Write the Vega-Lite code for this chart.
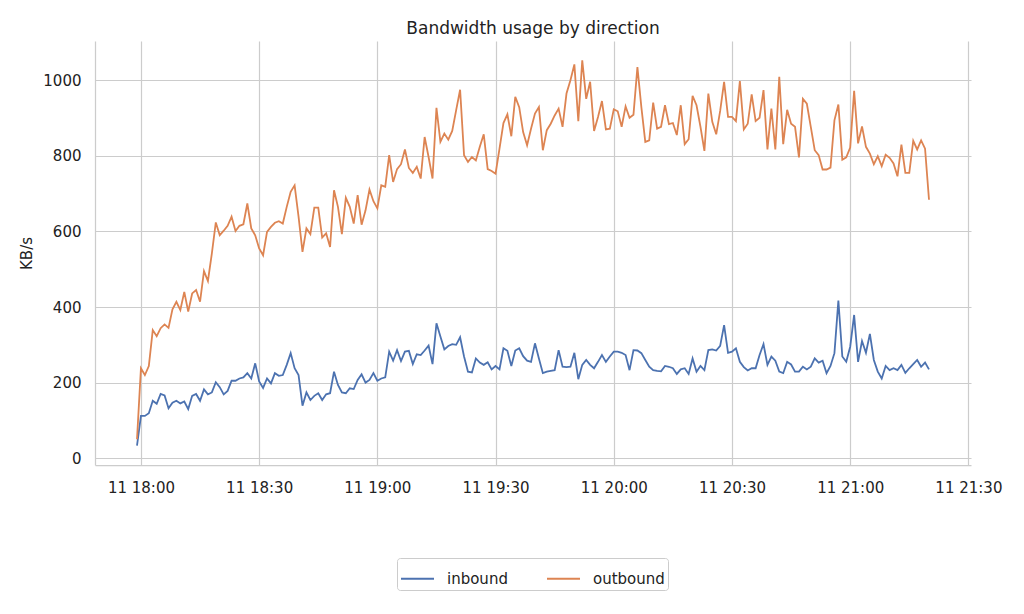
{
"width":876,"height":424,
"padding":{"left":19,"top":20,"right":5,"bottom":5},
"title":{"text":"Bandwidth usage by direction","font":"DejaVu Sans","fontSize":17,"fontWeight":"normal","color":"#222222","offset":3},
"config":{"view":{"stroke":null},
"axis":{"domainColor":"#cccccc","domainWidth":1.25,"gridColor":"#cccccc","gridWidth":1.2,"ticks":false,"tickSize":0,"labelFont":"DejaVu Sans","labelFontSize":15,"labelColor":"#222222","titleFont":"DejaVu Sans","titleFontSize":15,"titleFontWeight":"normal","titleColor":"#222222"}},
"data":{"values":[
{"d":"inbound","t":"2024-01-11T17:59","v":33},{"d":"inbound","t":"2024-01-11T18:00","v":112},{"d":"inbound","t":"2024-01-11T18:01","v":112},{"d":"inbound","t":"2024-01-11T18:02","v":119},{"d":"inbound","t":"2024-01-11T18:03","v":152},{"d":"inbound","t":"2024-01-11T18:04","v":144},{"d":"inbound","t":"2024-01-11T18:05","v":170},{"d":"inbound","t":"2024-01-11T18:06","v":166},{"d":"inbound","t":"2024-01-11T18:07","v":132},{"d":"inbound","t":"2024-01-11T18:08","v":147},{"d":"inbound","t":"2024-01-11T18:09","v":152},
{"d":"inbound","t":"2024-01-11T18:10","v":145},{"d":"inbound","t":"2024-01-11T18:11","v":150},{"d":"inbound","t":"2024-01-11T18:12","v":130},{"d":"inbound","t":"2024-01-11T18:13","v":165},{"d":"inbound","t":"2024-01-11T18:14","v":170},{"d":"inbound","t":"2024-01-11T18:15","v":152},{"d":"inbound","t":"2024-01-11T18:16","v":182},{"d":"inbound","t":"2024-01-11T18:17","v":169},{"d":"inbound","t":"2024-01-11T18:18","v":174},{"d":"inbound","t":"2024-01-11T18:19","v":201},
{"d":"inbound","t":"2024-01-11T18:20","v":188},{"d":"inbound","t":"2024-01-11T18:21","v":169},{"d":"inbound","t":"2024-01-11T18:22","v":178},{"d":"inbound","t":"2024-01-11T18:23","v":205},{"d":"inbound","t":"2024-01-11T18:24","v":205},{"d":"inbound","t":"2024-01-11T18:25","v":211},{"d":"inbound","t":"2024-01-11T18:26","v":214},{"d":"inbound","t":"2024-01-11T18:27","v":225},{"d":"inbound","t":"2024-01-11T18:28","v":211},{"d":"inbound","t":"2024-01-11T18:29","v":251},
{"d":"inbound","t":"2024-01-11T18:30","v":203},{"d":"inbound","t":"2024-01-11T18:31","v":186},{"d":"inbound","t":"2024-01-11T18:32","v":211},{"d":"inbound","t":"2024-01-11T18:33","v":198},{"d":"inbound","t":"2024-01-11T18:34","v":225},{"d":"inbound","t":"2024-01-11T18:35","v":218},{"d":"inbound","t":"2024-01-11T18:36","v":220},{"d":"inbound","t":"2024-01-11T18:37","v":247},{"d":"inbound","t":"2024-01-11T18:38","v":278},{"d":"inbound","t":"2024-01-11T18:39","v":238},
{"d":"inbound","t":"2024-01-11T18:40","v":220},{"d":"inbound","t":"2024-01-11T18:41","v":139},{"d":"inbound","t":"2024-01-11T18:42","v":174},{"d":"inbound","t":"2024-01-11T18:43","v":154},{"d":"inbound","t":"2024-01-11T18:44","v":165},{"d":"inbound","t":"2024-01-11T18:45","v":172},{"d":"inbound","t":"2024-01-11T18:46","v":154},{"d":"inbound","t":"2024-01-11T18:47","v":169},{"d":"inbound","t":"2024-01-11T18:48","v":172},{"d":"inbound","t":"2024-01-11T18:49","v":229},
{"d":"inbound","t":"2024-01-11T18:50","v":194},{"d":"inbound","t":"2024-01-11T18:51","v":174},{"d":"inbound","t":"2024-01-11T18:52","v":172},{"d":"inbound","t":"2024-01-11T18:53","v":185},{"d":"inbound","t":"2024-01-11T18:54","v":183},{"d":"inbound","t":"2024-01-11T18:55","v":207},{"d":"inbound","t":"2024-01-11T18:56","v":222},{"d":"inbound","t":"2024-01-11T18:57","v":200},{"d":"inbound","t":"2024-01-11T18:58","v":207},{"d":"inbound","t":"2024-01-11T18:59","v":225},
{"d":"inbound","t":"2024-01-11T19:00","v":205},{"d":"inbound","t":"2024-01-11T19:01","v":211},{"d":"inbound","t":"2024-01-11T19:02","v":214},{"d":"inbound","t":"2024-01-11T19:03","v":282},{"d":"inbound","t":"2024-01-11T19:04","v":258},{"d":"inbound","t":"2024-01-11T19:05","v":286},{"d":"inbound","t":"2024-01-11T19:06","v":257},{"d":"inbound","t":"2024-01-11T19:07","v":282},{"d":"inbound","t":"2024-01-11T19:08","v":284},{"d":"inbound","t":"2024-01-11T19:09","v":249},
{"d":"inbound","t":"2024-01-11T19:10","v":275},{"d":"inbound","t":"2024-01-11T19:11","v":273},{"d":"inbound","t":"2024-01-11T19:12","v":285},{"d":"inbound","t":"2024-01-11T19:13","v":298},{"d":"inbound","t":"2024-01-11T19:14","v":249},{"d":"inbound","t":"2024-01-11T19:15","v":357},{"d":"inbound","t":"2024-01-11T19:16","v":322},{"d":"inbound","t":"2024-01-11T19:17","v":288},{"d":"inbound","t":"2024-01-11T19:18","v":297},{"d":"inbound","t":"2024-01-11T19:19","v":302},
{"d":"inbound","t":"2024-01-11T19:20","v":300},{"d":"inbound","t":"2024-01-11T19:21","v":320},{"d":"inbound","t":"2024-01-11T19:22","v":269},{"d":"inbound","t":"2024-01-11T19:23","v":229},{"d":"inbound","t":"2024-01-11T19:24","v":227},{"d":"inbound","t":"2024-01-11T19:25","v":264},{"d":"inbound","t":"2024-01-11T19:26","v":253},{"d":"inbound","t":"2024-01-11T19:27","v":247},{"d":"inbound","t":"2024-01-11T19:28","v":254},{"d":"inbound","t":"2024-01-11T19:29","v":235},
{"d":"inbound","t":"2024-01-11T19:30","v":244},{"d":"inbound","t":"2024-01-11T19:31","v":235},{"d":"inbound","t":"2024-01-11T19:32","v":291},{"d":"inbound","t":"2024-01-11T19:33","v":284},{"d":"inbound","t":"2024-01-11T19:34","v":244},{"d":"inbound","t":"2024-01-11T19:35","v":285},{"d":"inbound","t":"2024-01-11T19:36","v":291},{"d":"inbound","t":"2024-01-11T19:37","v":270},{"d":"inbound","t":"2024-01-11T19:38","v":258},{"d":"inbound","t":"2024-01-11T19:39","v":255},
{"d":"inbound","t":"2024-01-11T19:40","v":304},{"d":"inbound","t":"2024-01-11T19:41","v":264},{"d":"inbound","t":"2024-01-11T19:42","v":225},{"d":"inbound","t":"2024-01-11T19:43","v":229},{"d":"inbound","t":"2024-01-11T19:44","v":231},{"d":"inbound","t":"2024-01-11T19:45","v":233},{"d":"inbound","t":"2024-01-11T19:46","v":286},{"d":"inbound","t":"2024-01-11T19:47","v":242},{"d":"inbound","t":"2024-01-11T19:48","v":241},{"d":"inbound","t":"2024-01-11T19:49","v":242},
{"d":"inbound","t":"2024-01-11T19:50","v":279},{"d":"inbound","t":"2024-01-11T19:51","v":209},{"d":"inbound","t":"2024-01-11T19:52","v":247},{"d":"inbound","t":"2024-01-11T19:53","v":260},{"d":"inbound","t":"2024-01-11T19:54","v":247},{"d":"inbound","t":"2024-01-11T19:55","v":238},{"d":"inbound","t":"2024-01-11T19:56","v":255},{"d":"inbound","t":"2024-01-11T19:57","v":273},{"d":"inbound","t":"2024-01-11T19:58","v":255},{"d":"inbound","t":"2024-01-11T19:59","v":269},
{"d":"inbound","t":"2024-01-11T20:00","v":282},{"d":"inbound","t":"2024-01-11T20:01","v":282},{"d":"inbound","t":"2024-01-11T20:02","v":279},{"d":"inbound","t":"2024-01-11T20:03","v":273},{"d":"inbound","t":"2024-01-11T20:04","v":233},{"d":"inbound","t":"2024-01-11T20:05","v":286},{"d":"inbound","t":"2024-01-11T20:06","v":285},{"d":"inbound","t":"2024-01-11T20:07","v":278},{"d":"inbound","t":"2024-01-11T20:08","v":260},{"d":"inbound","t":"2024-01-11T20:09","v":242},
{"d":"inbound","t":"2024-01-11T20:10","v":233},{"d":"inbound","t":"2024-01-11T20:11","v":231},{"d":"inbound","t":"2024-01-11T20:12","v":230},{"d":"inbound","t":"2024-01-11T20:13","v":244},{"d":"inbound","t":"2024-01-11T20:14","v":242},{"d":"inbound","t":"2024-01-11T20:15","v":238},{"d":"inbound","t":"2024-01-11T20:16","v":223},{"d":"inbound","t":"2024-01-11T20:17","v":235},{"d":"inbound","t":"2024-01-11T20:18","v":238},{"d":"inbound","t":"2024-01-11T20:19","v":223},
{"d":"inbound","t":"2024-01-11T20:20","v":264},{"d":"inbound","t":"2024-01-11T20:21","v":229},{"d":"inbound","t":"2024-01-11T20:22","v":244},{"d":"inbound","t":"2024-01-11T20:23","v":233},{"d":"inbound","t":"2024-01-11T20:24","v":286},{"d":"inbound","t":"2024-01-11T20:25","v":288},{"d":"inbound","t":"2024-01-11T20:26","v":285},{"d":"inbound","t":"2024-01-11T20:27","v":297},{"d":"inbound","t":"2024-01-11T20:28","v":352},{"d":"inbound","t":"2024-01-11T20:29","v":279},
{"d":"inbound","t":"2024-01-11T20:30","v":282},{"d":"inbound","t":"2024-01-11T20:31","v":291},{"d":"inbound","t":"2024-01-11T20:32","v":255},{"d":"inbound","t":"2024-01-11T20:33","v":241},{"d":"inbound","t":"2024-01-11T20:34","v":232},{"d":"inbound","t":"2024-01-11T20:35","v":238},{"d":"inbound","t":"2024-01-11T20:36","v":238},{"d":"inbound","t":"2024-01-11T20:37","v":273},{"d":"inbound","t":"2024-01-11T20:38","v":302},{"d":"inbound","t":"2024-01-11T20:39","v":247},
{"d":"inbound","t":"2024-01-11T20:40","v":269},{"d":"inbound","t":"2024-01-11T20:41","v":258},{"d":"inbound","t":"2024-01-11T20:42","v":229},{"d":"inbound","t":"2024-01-11T20:43","v":225},{"d":"inbound","t":"2024-01-11T20:44","v":255},{"d":"inbound","t":"2024-01-11T20:45","v":248},{"d":"inbound","t":"2024-01-11T20:46","v":229},{"d":"inbound","t":"2024-01-11T20:47","v":229},{"d":"inbound","t":"2024-01-11T20:48","v":242},{"d":"inbound","t":"2024-01-11T20:49","v":235},
{"d":"inbound","t":"2024-01-11T20:50","v":242},{"d":"inbound","t":"2024-01-11T20:51","v":264},{"d":"inbound","t":"2024-01-11T20:52","v":253},{"d":"inbound","t":"2024-01-11T20:53","v":258},{"d":"inbound","t":"2024-01-11T20:54","v":225},{"d":"inbound","t":"2024-01-11T20:55","v":244},{"d":"inbound","t":"2024-01-11T20:56","v":278},{"d":"inbound","t":"2024-01-11T20:57","v":417},{"d":"inbound","t":"2024-01-11T20:58","v":269},{"d":"inbound","t":"2024-01-11T20:59","v":255},
{"d":"inbound","t":"2024-01-11T21:00","v":295},{"d":"inbound","t":"2024-01-11T21:01","v":379},{"d":"inbound","t":"2024-01-11T21:02","v":255},{"d":"inbound","t":"2024-01-11T21:03","v":310},{"d":"inbound","t":"2024-01-11T21:04","v":279},{"d":"inbound","t":"2024-01-11T21:05","v":329},{"d":"inbound","t":"2024-01-11T21:06","v":260},{"d":"inbound","t":"2024-01-11T21:07","v":229},{"d":"inbound","t":"2024-01-11T21:08","v":211},{"d":"inbound","t":"2024-01-11T21:09","v":244},
{"d":"inbound","t":"2024-01-11T21:10","v":233},{"d":"inbound","t":"2024-01-11T21:11","v":238},{"d":"inbound","t":"2024-01-11T21:12","v":233},{"d":"inbound","t":"2024-01-11T21:13","v":247},{"d":"inbound","t":"2024-01-11T21:14","v":226},{"d":"inbound","t":"2024-01-11T21:15","v":238},{"d":"inbound","t":"2024-01-11T21:16","v":249},{"d":"inbound","t":"2024-01-11T21:17","v":260},{"d":"inbound","t":"2024-01-11T21:18","v":242},{"d":"inbound","t":"2024-01-11T21:19","v":253},
{"d":"inbound","t":"2024-01-11T21:20","v":235},
{"d":"outbound","t":"2024-01-11T17:59","v":50},{"d":"outbound","t":"2024-01-11T18:00","v":238},{"d":"outbound","t":"2024-01-11T18:01","v":220},{"d":"outbound","t":"2024-01-11T18:02","v":244},{"d":"outbound","t":"2024-01-11T18:03","v":339},{"d":"outbound","t":"2024-01-11T18:04","v":323},{"d":"outbound","t":"2024-01-11T18:05","v":344},{"d":"outbound","t":"2024-01-11T18:06","v":354},{"d":"outbound","t":"2024-01-11T18:07","v":345},{"d":"outbound","t":"2024-01-11T18:08","v":394},{"d":"outbound","t":"2024-01-11T18:09","v":414},
{"d":"outbound","t":"2024-01-11T18:10","v":392},{"d":"outbound","t":"2024-01-11T18:11","v":440},{"d":"outbound","t":"2024-01-11T18:12","v":388},{"d":"outbound","t":"2024-01-11T18:13","v":436},{"d":"outbound","t":"2024-01-11T18:14","v":445},{"d":"outbound","t":"2024-01-11T18:15","v":414},{"d":"outbound","t":"2024-01-11T18:16","v":495},{"d":"outbound","t":"2024-01-11T18:17","v":469},{"d":"outbound","t":"2024-01-11T18:18","v":542},{"d":"outbound","t":"2024-01-11T18:19","v":624},
{"d":"outbound","t":"2024-01-11T18:20","v":590},{"d":"outbound","t":"2024-01-11T18:21","v":602},{"d":"outbound","t":"2024-01-11T18:22","v":615},{"d":"outbound","t":"2024-01-11T18:23","v":639},{"d":"outbound","t":"2024-01-11T18:24","v":601},{"d":"outbound","t":"2024-01-11T18:25","v":615},{"d":"outbound","t":"2024-01-11T18:26","v":619},{"d":"outbound","t":"2024-01-11T18:27","v":674},{"d":"outbound","t":"2024-01-11T18:28","v":608},{"d":"outbound","t":"2024-01-11T18:29","v":590},
{"d":"outbound","t":"2024-01-11T18:30","v":555},{"d":"outbound","t":"2024-01-11T18:31","v":537},{"d":"outbound","t":"2024-01-11T18:32","v":599},{"d":"outbound","t":"2024-01-11T18:33","v":612},{"d":"outbound","t":"2024-01-11T18:34","v":623},{"d":"outbound","t":"2024-01-11T18:35","v":627},{"d":"outbound","t":"2024-01-11T18:36","v":621},{"d":"outbound","t":"2024-01-11T18:37","v":665},{"d":"outbound","t":"2024-01-11T18:38","v":705},{"d":"outbound","t":"2024-01-11T18:39","v":722},
{"d":"outbound","t":"2024-01-11T18:40","v":639},{"d":"outbound","t":"2024-01-11T18:41","v":546},{"d":"outbound","t":"2024-01-11T18:42","v":608},{"d":"outbound","t":"2024-01-11T18:43","v":593},{"d":"outbound","t":"2024-01-11T18:44","v":663},{"d":"outbound","t":"2024-01-11T18:45","v":663},{"d":"outbound","t":"2024-01-11T18:46","v":584},{"d":"outbound","t":"2024-01-11T18:47","v":595},{"d":"outbound","t":"2024-01-11T18:48","v":559},{"d":"outbound","t":"2024-01-11T18:49","v":709},
{"d":"outbound","t":"2024-01-11T18:50","v":665},{"d":"outbound","t":"2024-01-11T18:51","v":593},{"d":"outbound","t":"2024-01-11T18:52","v":689},{"d":"outbound","t":"2024-01-11T18:53","v":665},{"d":"outbound","t":"2024-01-11T18:54","v":621},{"d":"outbound","t":"2024-01-11T18:55","v":696},{"d":"outbound","t":"2024-01-11T18:56","v":618},{"d":"outbound","t":"2024-01-11T18:57","v":656},{"d":"outbound","t":"2024-01-11T18:58","v":711},{"d":"outbound","t":"2024-01-11T18:59","v":680},
{"d":"outbound","t":"2024-01-11T19:00","v":661},{"d":"outbound","t":"2024-01-11T19:01","v":722},{"d":"outbound","t":"2024-01-11T19:02","v":718},{"d":"outbound","t":"2024-01-11T19:03","v":802},{"d":"outbound","t":"2024-01-11T19:04","v":731},{"d":"outbound","t":"2024-01-11T19:05","v":765},{"d":"outbound","t":"2024-01-11T19:06","v":778},{"d":"outbound","t":"2024-01-11T19:07","v":817},{"d":"outbound","t":"2024-01-11T19:08","v":768},{"d":"outbound","t":"2024-01-11T19:09","v":755},
{"d":"outbound","t":"2024-01-11T19:10","v":771},{"d":"outbound","t":"2024-01-11T19:11","v":740},{"d":"outbound","t":"2024-01-11T19:12","v":850},{"d":"outbound","t":"2024-01-11T19:13","v":797},{"d":"outbound","t":"2024-01-11T19:14","v":740},{"d":"outbound","t":"2024-01-11T19:15","v":927},{"d":"outbound","t":"2024-01-11T19:16","v":837},{"d":"outbound","t":"2024-01-11T19:17","v":859},{"d":"outbound","t":"2024-01-11T19:18","v":843},{"d":"outbound","t":"2024-01-11T19:19","v":866},
{"d":"outbound","t":"2024-01-11T19:20","v":921},{"d":"outbound","t":"2024-01-11T19:21","v":975},{"d":"outbound","t":"2024-01-11T19:22","v":802},{"d":"outbound","t":"2024-01-11T19:23","v":784},{"d":"outbound","t":"2024-01-11T19:24","v":797},{"d":"outbound","t":"2024-01-11T19:25","v":788},{"d":"outbound","t":"2024-01-11T19:26","v":824},{"d":"outbound","t":"2024-01-11T19:27","v":857},{"d":"outbound","t":"2024-01-11T19:28","v":765},{"d":"outbound","t":"2024-01-11T19:29","v":760},
{"d":"outbound","t":"2024-01-11T19:30","v":753},{"d":"outbound","t":"2024-01-11T19:31","v":819},{"d":"outbound","t":"2024-01-11T19:32","v":887},{"d":"outbound","t":"2024-01-11T19:33","v":910},{"d":"outbound","t":"2024-01-11T19:34","v":852},{"d":"outbound","t":"2024-01-11T19:35","v":956},{"d":"outbound","t":"2024-01-11T19:36","v":929},{"d":"outbound","t":"2024-01-11T19:37","v":863},{"d":"outbound","t":"2024-01-11T19:38","v":828},{"d":"outbound","t":"2024-01-11T19:39","v":872},
{"d":"outbound","t":"2024-01-11T19:40","v":912},{"d":"outbound","t":"2024-01-11T19:41","v":929},{"d":"outbound","t":"2024-01-11T19:42","v":815},{"d":"outbound","t":"2024-01-11T19:43","v":868},{"d":"outbound","t":"2024-01-11T19:44","v":885},{"d":"outbound","t":"2024-01-11T19:45","v":907},{"d":"outbound","t":"2024-01-11T19:46","v":925},{"d":"outbound","t":"2024-01-11T19:47","v":877},{"d":"outbound","t":"2024-01-11T19:48","v":965},{"d":"outbound","t":"2024-01-11T19:49","v":1000},
{"d":"outbound","t":"2024-01-11T19:50","v":1042},{"d":"outbound","t":"2024-01-11T19:51","v":892},{"d":"outbound","t":"2024-01-11T19:52","v":1053},{"d":"outbound","t":"2024-01-11T19:53","v":951},{"d":"outbound","t":"2024-01-11T19:54","v":996},{"d":"outbound","t":"2024-01-11T19:55","v":866},{"d":"outbound","t":"2024-01-11T19:56","v":903},{"d":"outbound","t":"2024-01-11T19:57","v":945},{"d":"outbound","t":"2024-01-11T19:58","v":870},{"d":"outbound","t":"2024-01-11T19:59","v":872},
{"d":"outbound","t":"2024-01-11T20:00","v":923},{"d":"outbound","t":"2024-01-11T20:01","v":918},{"d":"outbound","t":"2024-01-11T20:02","v":877},{"d":"outbound","t":"2024-01-11T20:03","v":931},{"d":"outbound","t":"2024-01-11T20:04","v":901},{"d":"outbound","t":"2024-01-11T20:05","v":909},{"d":"outbound","t":"2024-01-11T20:06","v":1035},{"d":"outbound","t":"2024-01-11T20:07","v":929},{"d":"outbound","t":"2024-01-11T20:08","v":837},{"d":"outbound","t":"2024-01-11T20:09","v":841},
{"d":"outbound","t":"2024-01-11T20:10","v":941},{"d":"outbound","t":"2024-01-11T20:11","v":872},{"d":"outbound","t":"2024-01-11T20:12","v":877},{"d":"outbound","t":"2024-01-11T20:13","v":934},{"d":"outbound","t":"2024-01-11T20:14","v":884},{"d":"outbound","t":"2024-01-11T20:15","v":887},{"d":"outbound","t":"2024-01-11T20:16","v":855},{"d":"outbound","t":"2024-01-11T20:17","v":934},{"d":"outbound","t":"2024-01-11T20:18","v":831},{"d":"outbound","t":"2024-01-11T20:19","v":844},
{"d":"outbound","t":"2024-01-11T20:20","v":959},{"d":"outbound","t":"2024-01-11T20:21","v":934},{"d":"outbound","t":"2024-01-11T20:22","v":877},{"d":"outbound","t":"2024-01-11T20:23","v":813},{"d":"outbound","t":"2024-01-11T20:24","v":965},{"d":"outbound","t":"2024-01-11T20:25","v":890},{"d":"outbound","t":"2024-01-11T20:26","v":857},{"d":"outbound","t":"2024-01-11T20:27","v":919},{"d":"outbound","t":"2024-01-11T20:28","v":996},{"d":"outbound","t":"2024-01-11T20:29","v":903},
{"d":"outbound","t":"2024-01-11T20:30","v":903},{"d":"outbound","t":"2024-01-11T20:31","v":892},{"d":"outbound","t":"2024-01-11T20:32","v":998},{"d":"outbound","t":"2024-01-11T20:33","v":870},{"d":"outbound","t":"2024-01-11T20:34","v":885},{"d":"outbound","t":"2024-01-11T20:35","v":963},{"d":"outbound","t":"2024-01-11T20:36","v":892},{"d":"outbound","t":"2024-01-11T20:37","v":901},{"d":"outbound","t":"2024-01-11T20:38","v":974},{"d":"outbound","t":"2024-01-11T20:39","v":817},
{"d":"outbound","t":"2024-01-11T20:40","v":925},{"d":"outbound","t":"2024-01-11T20:41","v":817},{"d":"outbound","t":"2024-01-11T20:42","v":1009},{"d":"outbound","t":"2024-01-11T20:43","v":831},{"d":"outbound","t":"2024-01-11T20:44","v":922},{"d":"outbound","t":"2024-01-11T20:45","v":885},{"d":"outbound","t":"2024-01-11T20:46","v":877},{"d":"outbound","t":"2024-01-11T20:47","v":796},{"d":"outbound","t":"2024-01-11T20:48","v":951},{"d":"outbound","t":"2024-01-11T20:49","v":938},
{"d":"outbound","t":"2024-01-11T20:50","v":877},{"d":"outbound","t":"2024-01-11T20:51","v":815},{"d":"outbound","t":"2024-01-11T20:52","v":802},{"d":"outbound","t":"2024-01-11T20:53","v":764},{"d":"outbound","t":"2024-01-11T20:54","v":764},{"d":"outbound","t":"2024-01-11T20:55","v":769},{"d":"outbound","t":"2024-01-11T20:56","v":894},{"d":"outbound","t":"2024-01-11T20:57","v":936},{"d":"outbound","t":"2024-01-11T20:58","v":790},{"d":"outbound","t":"2024-01-11T20:59","v":796},
{"d":"outbound","t":"2024-01-11T21:00","v":822},{"d":"outbound","t":"2024-01-11T21:01","v":972},{"d":"outbound","t":"2024-01-11T21:02","v":833},{"d":"outbound","t":"2024-01-11T21:03","v":878},{"d":"outbound","t":"2024-01-11T21:04","v":824},{"d":"outbound","t":"2024-01-11T21:05","v":806},{"d":"outbound","t":"2024-01-11T21:06","v":778},{"d":"outbound","t":"2024-01-11T21:07","v":799},{"d":"outbound","t":"2024-01-11T21:08","v":773},{"d":"outbound","t":"2024-01-11T21:09","v":803},
{"d":"outbound","t":"2024-01-11T21:10","v":795},{"d":"outbound","t":"2024-01-11T21:11","v":780},{"d":"outbound","t":"2024-01-11T21:12","v":746},{"d":"outbound","t":"2024-01-11T21:13","v":830},{"d":"outbound","t":"2024-01-11T21:14","v":755},{"d":"outbound","t":"2024-01-11T21:15","v":755},{"d":"outbound","t":"2024-01-11T21:16","v":840},{"d":"outbound","t":"2024-01-11T21:17","v":817},{"d":"outbound","t":"2024-01-11T21:18","v":841},{"d":"outbound","t":"2024-01-11T21:19","v":819},
{"d":"outbound","t":"2024-01-11T21:20","v":684}
]},
"mark":{"type":"line","strokeWidth":1.8},
"encoding":{
"x":{"field":"t","type":"temporal","title":null,"scale":{"padding":42},"axis":{"format":"%d %H:%M","tickCount":7,"labelPadding":15}},
"y":{"field":"v","type":"quantitative","title":"KB/s","scale":{"domain":[-18,1104],"nice":false,"zero":false},"axis":{"values":[0,200,400,600,800,1000],"format":"d","labelPadding":14,"titlePadding":8}},
"color":{"field":"d","type":"nominal","scale":{"domain":["inbound","outbound"],"range":["#4C72B0","#DD8452"]},
"legend":{"orient":"none","legendX":302,"legendY":517,"direction":"horizontal","title":null,"symbolType":"stroke","symbolSize":1089,"symbolStrokeWidth":2,"labelFont":"DejaVu Sans","labelFontSize":15,"labelColor":"#222222","labelOffset":12,"columnPadding":35,"padding":3,"strokeColor":"#cccccc","cornerRadius":3}}
}
}
